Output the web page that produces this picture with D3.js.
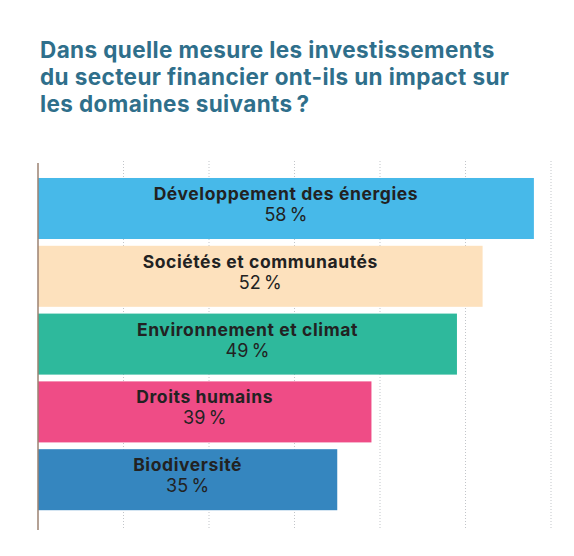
<!DOCTYPE html>
<html>
<head>
<meta charset="utf-8">
<script src="https://cdn.jsdelivr.net/npm/d3@7"></script>
<style>
  body { margin: 0; background: #fff; }
  svg { display: block; }
</style>
</head>
<body>
<svg id="chart" width="574" height="556"></svg>
<script>
const titleLines = [
  "Dans quelle mesure les investissements",
  "du secteur financier ont-ils un impact sur",
  "les domaines suivants\u202F?"
];
const categories = [
  "Développement des énergies",
  "Sociétés et communautés",
  "Environnement et climat",
  "Droits humains",
  "Biodiversité"
];
const values = [58, 52, 49, 39, 35];
const barColors = ["#47b9e9", "#fde1bd", "#2eb99c", "#ef4c86", "#3586bf"];
const gridTicks = [0, 10, 20, 30, 40, 50, 60];

const svg = d3.select("#chart");
const font = "Inter, 'Noto Sans', sans-serif";

// title
svg.append("g")
  .selectAll("text")
  .data(titleLines)
  .enter()
  .append("text")
  .attr("x", 40)
  .attr("y", (d, i) => 58 + i * 27)
  .attr("font-family", font)
  .attr("font-weight", 700)
  .attr("font-size", 22.5)
  .attr("letter-spacing", 0.4)
  .attr("fill", "#2f6f8b")
  .text(d => d);

const x = d3.scaleLinear().domain([0, 60]).range([38, 551]);
const y = d3.scaleBand()
  .domain(categories)
  .range([174.6, 513.6])
  .paddingInner(0.1)
  .paddingOuter(0.05);

// dotted gridlines
svg.append("g")
  .selectAll("line")
  .data(gridTicks.slice(1))
  .enter()
  .append("line")
  .attr("x1", d => x(d))
  .attr("x2", d => x(d))
  .attr("y1", 161)
  .attr("y2", 530)
  .attr("stroke", "#c2c5c9")
  .attr("stroke-width", 1)
  .attr("stroke-dasharray", "1,2");

// bars
const bars = svg.selectAll(".bar")
  .data(categories)
  .enter()
  .append("g")
  .attr("class", "bar");

bars.append("rect")
  .attr("x", x(0))
  .attr("y", d => y(d))
  .attr("width", (d, i) => x(values[i]) - x(0))
  .attr("height", y.bandwidth())
  .attr("fill", (d, i) => barColors[i]);

bars.append("text")
  .attr("x", (d, i) => (x(0) + x(values[i])) / 2)
  .attr("y", d => y(d) + 22)
  .attr("text-anchor", "middle")
  .attr("font-family", font)
  .attr("font-weight", 700)
  .attr("font-size", 17.5)
  .attr("letter-spacing", 0.6)
  .attr("fill", "#222")
  .text(d => d);

bars.append("text")
  .attr("x", (d, i) => (x(0) + x(values[i])) / 2)
  .attr("y", d => y(d) + 43)
  .attr("text-anchor", "middle")
  .attr("font-family", font)
  .attr("font-size", 18)
  .attr("fill", "#222")
  .text((d, i) => values[i] + "\u202F%");

// axis line
svg.append("line")
  .attr("x1", x(0))
  .attr("x2", x(0))
  .attr("y1", 163)
  .attr("y2", 530)
  .attr("stroke", "#9b8272")
  .attr("stroke-width", 1.5);
</script>
</body>
</html>
